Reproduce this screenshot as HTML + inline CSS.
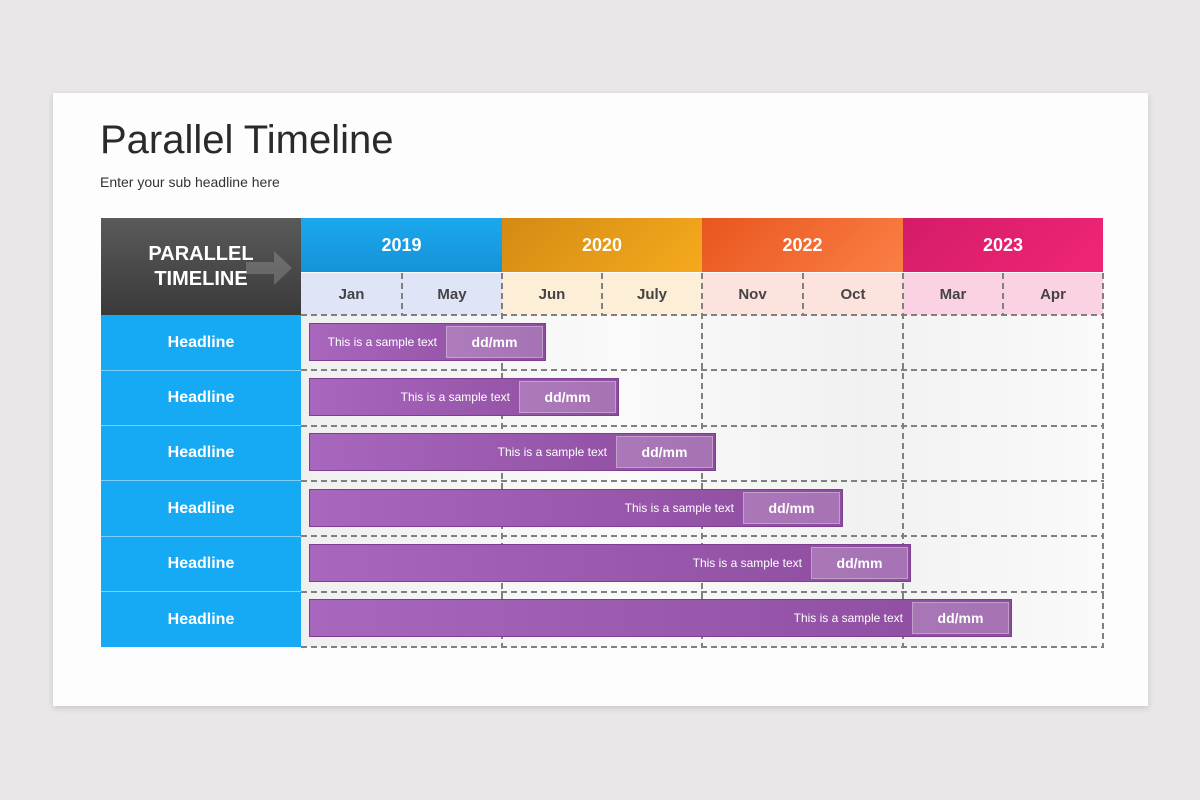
<!DOCTYPE html>
<html><head><meta charset="utf-8"><style>
*{margin:0;padding:0;box-sizing:border-box}
body{width:1200px;height:800px;background:#e9e7e8;position:relative;overflow:hidden;font-family:"Liberation Sans",sans-serif}
.card{position:absolute;left:53px;top:93px;width:1095px;height:613px;background:#fdfdfd;box-shadow:0 2px 6px rgba(0,0,0,.15)}
.a{position:absolute}
.c{display:flex;align-items:center;justify-content:center;color:#fff;font-weight:bold}
.yr{top:218px;height:55px;font-size:18px}
.mo{top:273px;height:42px;font-size:15px;color:#444;font-weight:bold}
.hl{left:101px;width:200px;background:#16a9f4;font-size:16px;border-bottom:1px solid #7fd0fa}
.bar{height:38px;left:309px;background:linear-gradient(90deg,#a867bd,#8d4c9e);border:1px solid #7e3f92;display:flex;align-items:center;justify-content:flex-end;color:#fff;font-size:12px}
.bar .d{width:97px;height:32px;margin:0 2px 0 9px;background:rgba(255,255,255,.22);border:1px solid rgba(255,255,255,.3);display:flex;align-items:center;justify-content:center;font-weight:bold;font-size:14px}
.vd{position:absolute;width:2px;background:repeating-linear-gradient(180deg,#808080 0 6px,transparent 6px 10px)}
.hd{position:absolute;height:2px;left:301px;width:803px;background:repeating-linear-gradient(90deg,#808080 0 6px,transparent 6px 10px)}
</style></head><body>
<div class="card"></div>
<div class="a" style="left:100px;top:118px;font-size:40px;color:#2a2a2a">Parallel Timeline</div>
<div class="a" style="left:100px;top:174px;font-size:14px;color:#333">Enter your sub headline here</div>

<div class="a" style="left:301px;top:315px;width:802px;height:332px;background:linear-gradient(90deg,#efefef,#fafafa 40%,#f1f1f1 70%,#fafafa)"></div>

<div class="a c" style="left:101px;top:218px;width:200px;height:97px;background:linear-gradient(#5a5a5a,#3a3a3a);font-size:20px;line-height:25px;text-align:center">
<svg class="a" style="left:145px;top:33px" width="48" height="34"><polygon points="0,11 28,11 28,0 46,17 28,34 28,23 0,23" fill="rgba(255,255,255,.18)"/></svg>
<span style="position:relative">PARALLEL<br>TIMELINE</span></div>

<div class="a c yr" style="left:301px;width:201px;background:linear-gradient(#1ba8ee,#1592d8)">2019</div>
<div class="a c yr" style="left:502px;width:200px;background:linear-gradient(135deg,#d48a14,#f5aa1d)">2020</div>
<div class="a c yr" style="left:702px;width:201px;background:linear-gradient(135deg,#e8561f,#fb7f45)">2022</div>
<div class="a c yr" style="left:903px;width:200px;background:linear-gradient(135deg,#d41c68,#f02575)">2023</div>

<div class="a c mo" style="left:301px;width:101px;background:#dfe4f6">Jan</div>
<div class="a c mo" style="left:402px;width:100px;background:#dfe4f6">May</div>
<div class="a c mo" style="left:502px;width:100px;background:#fdeed8">Jun</div>
<div class="a c mo" style="left:602px;width:100px;background:#fdeed8">July</div>
<div class="a c mo" style="left:702px;width:101px;background:#fde3dd">Nov</div>
<div class="a c mo" style="left:803px;width:100px;background:#fde3dd">Oct</div>
<div class="a c mo" style="left:903px;width:100px;background:#fbd2e3">Mar</div>
<div class="a c mo" style="left:1003px;width:100px;background:#fbd2e3">Apr</div>
<div class="a" style="left:301px;top:272px;width:802px;height:1px;background:#fff"></div>

<div class="vd" style="left:401px;top:273px;height:42px"></div>
<div class="vd" style="left:601px;top:273px;height:42px"></div>
<div class="vd" style="left:802px;top:273px;height:42px"></div>
<div class="vd" style="left:1002px;top:273px;height:42px"></div>
<div class="vd" style="left:501px;top:273px;height:374px"></div>
<div class="vd" style="left:701px;top:273px;height:374px"></div>
<div class="vd" style="left:902px;top:273px;height:374px"></div>
<div class="vd" style="left:1102px;top:273px;height:374px"></div>
<div class="hd" style="top:314px"></div>
<div class="hd" style="top:369px"></div>
<div class="hd" style="top:425px"></div>
<div class="hd" style="top:480px"></div>
<div class="hd" style="top:535px"></div>
<div class="hd" style="top:591px"></div>
<div class="hd" style="top:646px"></div>

<div class="a c hl" style="top:315px;height:56px">Headline</div>
<div class="a c hl" style="top:371px;height:55px">Headline</div>
<div class="a c hl" style="top:426px;height:55px">Headline</div>
<div class="a c hl" style="top:481px;height:56px">Headline</div>
<div class="a c hl" style="top:537px;height:55px">Headline</div>
<div class="a c hl" style="top:592px;height:55px;border-bottom:none">Headline</div>

<div class="a bar" style="top:323px;width:237px">This is a sample text<div class="d">dd/mm</div></div>
<div class="a bar" style="top:378px;width:310px">This is a sample text<div class="d">dd/mm</div></div>
<div class="a bar" style="top:433px;width:407px">This is a sample text<div class="d">dd/mm</div></div>
<div class="a bar" style="top:489px;width:534px">This is a sample text<div class="d">dd/mm</div></div>
<div class="a bar" style="top:544px;width:602px">This is a sample text<div class="d">dd/mm</div></div>
<div class="a bar" style="top:599px;width:703px">This is a sample text<div class="d">dd/mm</div></div>
</body></html>
